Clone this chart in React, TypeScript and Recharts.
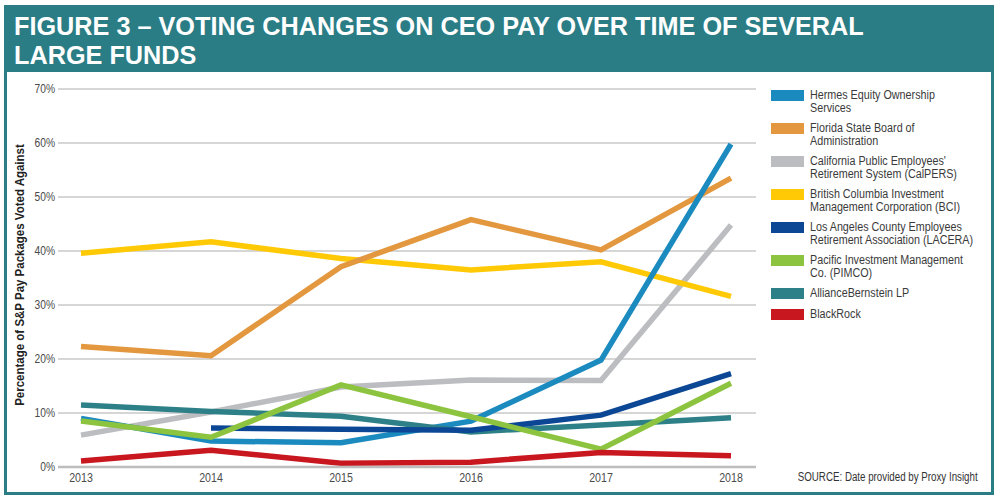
import React from 'react';
import { LineChart, Line, XAxis, YAxis, CartesianGrid, Legend } from 'recharts';

const years = ['2013', '2014', '2015', '2016', '2017', '2018'];
const hermes = [9.0, 4.8, 4.5, 8.5, 19.8, 59.8];
const florida = [22.3, 20.6, 37.1, 45.8, 40.2, 53.5];
const calpers = [5.9, 10.2, 14.8, 16.1, 16.0, 44.8];
const bci = [39.6, 41.7, 38.6, 36.5, 38.0, 31.6];
const lacera = [null, 7.2, 7.0, 6.8, 9.6, 17.3];
const pimco = [8.5, 5.5, 15.2, 9.3, 3.3, 15.5];
const alliance = [11.5, 10.3, 9.4, 6.5, 7.8, 9.1];
const blackrock = [1.1, 3.1, 0.7, 0.9, 2.7, 2.1];
const yTicks = [0, 10, 20, 30, 40, 50, 60, 70];

const seriesNames = [
  'Hermes Equity Ownership Services',
  'Florida State Board of Administration',
  "California Public Employees' Retirement System (CalPERS)",
  'British Columbia Investment Management Corporation (BCI)',
  'Los Angeles County Employees Retirement Association (LACERA)',
  'Pacific Investment Management Co. (PIMCO)',
  'AllianceBernstein LP',
  'BlackRock',
];
const legendLines = [
  ['Hermes Equity Ownership', 'Services'],
  ['Florida State Board of', 'Administration'],
  ["California Public Employees'", 'Retirement System (CalPERS)'],
  ['British Columbia Investment', 'Management Corporation (BCI)'],
  ['Los Angeles County Employees', 'Retirement Association (LACERA)'],
  ['Pacific Investment Management', 'Co. (PIMCO)'],
  ['AllianceBernstein LP'],
  ['BlackRock'],
];
const seriesKeys = ['hermes', 'florida', 'calpers', 'bci', 'lacera', 'pimco', 'alliance', 'blackrock'];
const seriesValues = [hermes, florida, calpers, bci, lacera, pimco, alliance, blackrock];
const seriesColors = ['#1b8abf', '#e3983f', '#bcbdc0', '#ffca05', '#0c4796', '#8dc43f', '#2d8087', '#c8171e'];
const drawOrder = [2, 3, 1, 0, 6, 4, 5, 7];

const data = years.map((y, i) => {
  const row: any = { year: y };
  seriesKeys.forEach((k, s) => {
    row[k] = seriesValues[s][i];
  });
  return row;
});

const TEAL = '#2a7c85';
const FONT = '"Liberation Sans", Arial, sans-serif';

const XTick = (props: any) => {
  const { x, y, payload } = props;
  return (
    <text
      transform={`translate(${x},${y}) scale(0.85,1)`}
      textAnchor="middle"
      dy="0.71em"
      fontFamily={FONT}
      fontSize={12.5}
      fill="#4a4a4a"
    >
      {payload.value}
    </text>
  );
};

const YTick = (props: any) => {
  const { x, y, payload } = props;
  return (
    <text
      transform={`translate(${x},${y}) scale(0.82,1)`}
      textAnchor="end"
      dy="0.355em"
      fontFamily={FONT}
      fontSize={12.5}
      fill="#4a4a4a"
    >
      {`${payload.value}%`}
    </text>
  );
};

const YLabel = (props: any) => {
  const vb = props.viewBox || { x: 8, y: 89, width: 50, height: 378 };
  const cx = vb.x + 11;
  const cy = vb.y + vb.height / 2 - 3;
  return (
    <text
      transform={`translate(${cx},${cy}) rotate(-90) scale(0.92,1)`}
      textAnchor="middle"
      dy="0.36em"
      fontFamily={FONT}
      fontSize={12.5}
      fontWeight="bold"
      fill="#222"
    >
      Percentage of S&amp;P Pay Packages Voted Against
    </text>
  );
};

const LegendContent = () => (
  <div style={{ fontFamily: FONT, fontSize: 12.5, color: '#3a3a3a', lineHeight: '13px' }}>
    {legendLines.map((lines, i) => (
      <div key={i} style={{ display: 'flex', alignItems: 'flex-start', height: lines.length > 1 ? 33 : 21 }}>
        <div style={{ width: 33, height: 11, background: seriesColors[i], marginTop: 1, marginRight: 6, flexShrink: 0 }} />
        <div style={{ transform: 'scaleX(0.86)', transformOrigin: 'left top' }}>
          {lines.map((l, j) => (
            <div key={j} style={{ whiteSpace: 'nowrap' }}>{l}</div>
          ))}
        </div>
      </div>
    ))}
  </div>
);

export default function App() {
  return (
    <div style={{ position: 'absolute', left: 0, top: 0, width: 1000, height: 504, background: '#fff', overflow: 'hidden' }}>
      <div
        style={{
          position: 'absolute',
          left: 4,
          top: 5,
          width: 990,
          height: 67,
          background: TEAL,
          color: '#fff',
          fontFamily: FONT,
          fontWeight: 'bold',
          fontSize: 25,
          lineHeight: '29px',
          boxSizing: 'border-box',
          paddingLeft: 10,
          paddingTop: 7,
        }}
      >
        <div style={{ transform: 'scaleX(1.01)', transformOrigin: 'left top' }}>
          <div style={{ whiteSpace: 'nowrap' }}>FIGURE 3 – VOTING CHANGES ON CEO PAY OVER TIME OF SEVERAL</div>
          <div style={{ whiteSpace: 'nowrap' }}>LARGE FUNDS</div>
        </div>
      </div>
      <div
        style={{
          position: 'absolute',
          left: 4,
          top: 72,
          width: 990,
          height: 423,
          boxSizing: 'border-box',
          border: `3px solid ${TEAL}`,
          borderTop: 'none',
        }}
      />
      <div style={{ position: 'absolute', left: 0, top: 0 }}>
        <LineChart width={1000} height={504} data={data} margin={{ top: 89, right: 244, bottom: 17, left: 8 }}>
          <CartesianGrid vertical={false} stroke="#c8c8c8" strokeWidth={1.3} />
          <XAxis
            dataKey="year"
            padding={{ left: 23, right: 25 }}
            tickLine={false}
            axisLine={{ stroke: '#bdbdbd', strokeWidth: 2.5 }}
            tickSize={0}
            tickMargin={6}
            height={20}
            tick={<XTick />}
          />
          <YAxis
            domain={[0, 70]}
            ticks={yTicks}
            width={50}
            tickLine={false}
            axisLine={false}
            tickSize={0}
            tickMargin={3}
            tick={<YTick />}
            label={<YLabel />}
          />
          <Legend
            layout="horizontal"
            align="center"
            verticalAlign="middle"
            wrapperStyle={{ position: 'absolute', left: 771, top: 89, width: 220 }}
            content={() => <LegendContent />}
          />
          {drawOrder.map((s) => (
            <Line
              key={seriesKeys[s]}
              type="linear"
              dataKey={seriesKeys[s]}
              name={seriesNames[s]}
              stroke={seriesColors[s]}
              strokeWidth={5.5}
              strokeLinejoin="miter"
              strokeLinecap="butt"
              dot={false}
              activeDot={false}
              isAnimationActive={false}
            />
          ))}
        </LineChart>
      </div>
      <div
        style={{
          position: 'absolute',
          right: 22,
          top: 470,
          fontFamily: FONT,
          fontSize: 12.5,
          color: '#333',
          whiteSpace: 'nowrap',
          transform: 'scaleX(0.78)',
          transformOrigin: 'right top',
        }}
      >
        SOURCE: Date provided by Proxy Insight
      </div>
    </div>
  );
}
